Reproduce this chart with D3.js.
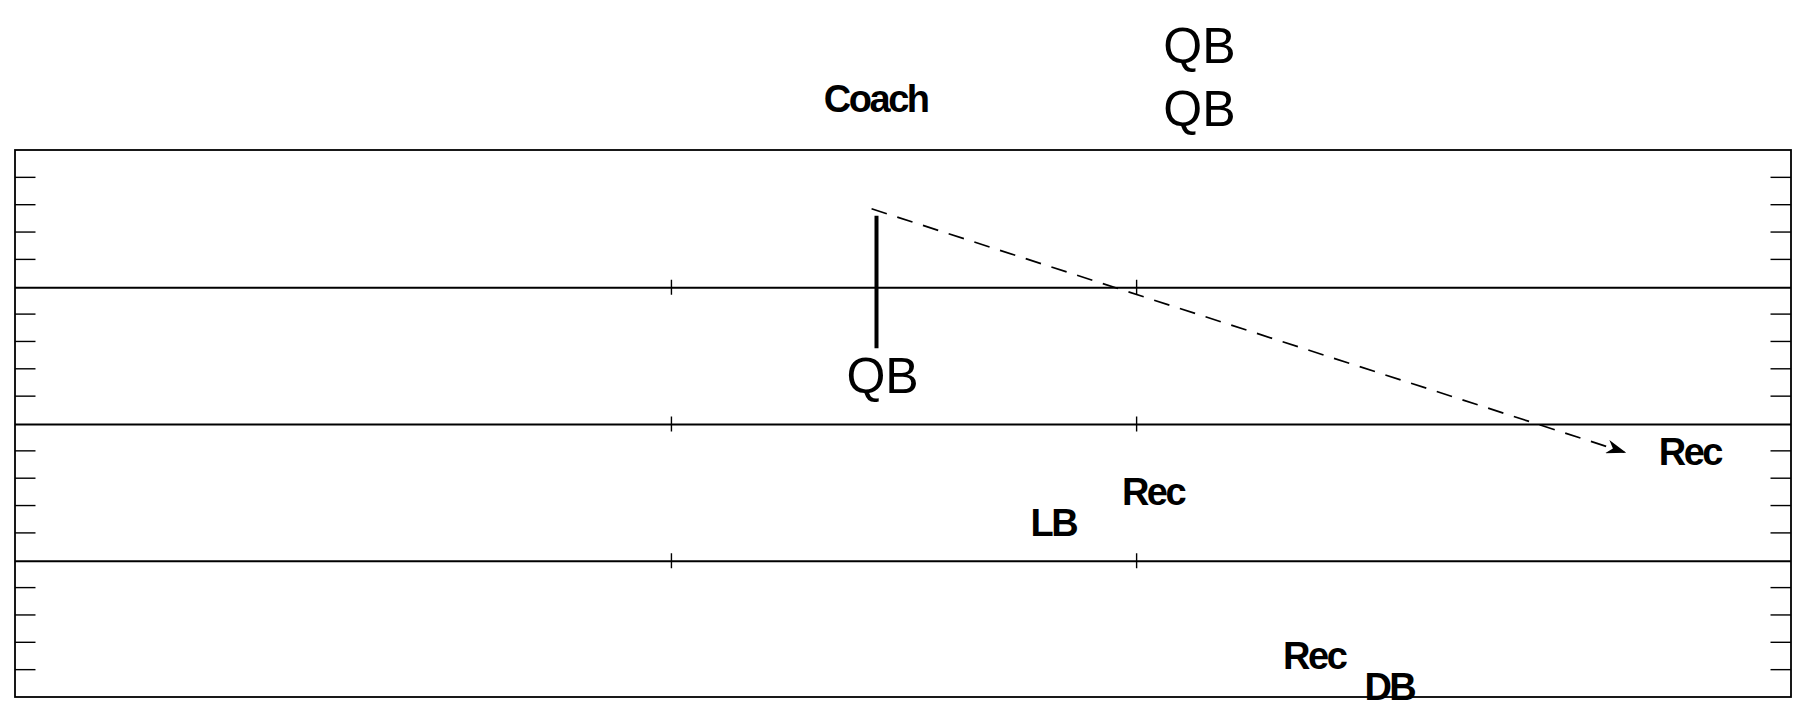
<!DOCTYPE html>
<html><head><meta charset="utf-8">
<script src="https://cdn.jsdelivr.net/npm/d3@7/dist/d3.min.js"></script>
<style>body{margin:0;background:#fff}</style></head>
<body><svg id="c" width="1806" height="718"></svg>
<script>
const yardLines = [10, 20, 30];
const sideTicks = [2,4,6,8,12,14,16,18,22,24,26,28,32,34,36,38];
const hashX = [48.05, 82.1];
const labels = [
  {t:"QB", x:86.7, y:-7.6, bold:false},
  {t:"QB", x:86.7, y:-3.0, bold:false},
  {t:"Coach", x:63.0, y:-3.7, bold:true},
  {t:"QB", x:63.5, y:16.5, bold:false},
  {t:"Rec", x:122.6, y:22.1, bold:true},
  {t:"Rec", x:83.3, y:25.0, bold:true},
  {t:"LB", x:76.0, y:27.3, bold:true},
  {t:"Rec", x:95.1, y:37.0, bold:true},
  {t:"DB", x:100.6, y:39.3, bold:true}
];
const solidLine = [[63.06,4.8],[63.06,14.5]];
const passLine = [[62.7,4.3],[117.8,22.1]];

const svg = d3.select("#c");
const x = d3.scaleLinear().domain([0,130]).range([15,1791]);
const y = d3.scaleLinear().domain([0,40]).range([150,697]);

svg.append("defs").append("marker").attr("id","ar").attr("viewBox","0 0 10 10")
  .attr("refX",9).attr("refY",5).attr("markerWidth",20).attr("markerHeight",14)
  .attr("markerUnits","userSpaceOnUse").attr("orient","auto").attr("preserveAspectRatio","none")
  .append("path").attr("d","M0,0L10,5L0,10L3,5Z").attr("fill","#000");

svg.append("rect").attr("x",x(0)).attr("y",y(0)).attr("width",x(130)-x(0)).attr("height",y(40)-y(0))
  .attr("fill","none").attr("stroke","#000").attr("stroke-width",1.8);
svg.selectAll(".yl").data(yardLines).join("line").attr("x1",x(0)).attr("x2",x(130))
  .attr("y1",d=>y(d)+1).attr("y2",d=>y(d)+1).attr("stroke","#000").attr("stroke-width",1.8);
svg.selectAll(".tl").data(sideTicks).join("line").attr("x1",x(0)).attr("x2",x(1.5))
  .attr("y1",d=>y(d)).attr("y2",d=>y(d)).attr("stroke","#000").attr("stroke-width",1.4);
svg.selectAll(".tr").data(sideTicks).join("line").attr("x1",x(130)).attr("x2",x(128.5))
  .attr("y1",d=>y(d)).attr("y2",d=>y(d)).attr("stroke","#000").attr("stroke-width",1.4);
const hp = yardLines.flatMap(l=>hashX.map(h=>({l,h})));
svg.selectAll(".h").data(hp).join("line").attr("x1",d=>x(d.h)).attr("x2",d=>x(d.h))
  .attr("y1",d=>y(d.l)-7).attr("y2",d=>y(d.l)+8).attr("stroke","#000").attr("stroke-width",1.4);

const ln = d3.line().x(d=>x(d[0])).y(d=>y(d[1]));
svg.append("path").attr("d",ln(solidLine)).attr("stroke","#000").attr("stroke-width",4).attr("fill","none");
svg.append("path").attr("d",ln(passLine)).attr("stroke","#000").attr("stroke-width",1.7)
  .attr("stroke-dasharray","16,11").attr("fill","none").attr("marker-end","url(#ar)");

svg.selectAll(".lab").data(labels).join("text")
  .attr("x",d=>x(d.x)).attr("y",d=>y(d.y)).attr("text-anchor","middle").attr("dominant-baseline","central")
  .attr("font-family","Liberation Sans, Arial, sans-serif")
  .attr("font-weight",d=>d.bold?"bold":"normal")
  .attr("font-size",d=>d.bold?38:50)
  .attr("letter-spacing",d=>d.bold?-2.5:0)
  .text(d=>d.t);
</script></body></html>
